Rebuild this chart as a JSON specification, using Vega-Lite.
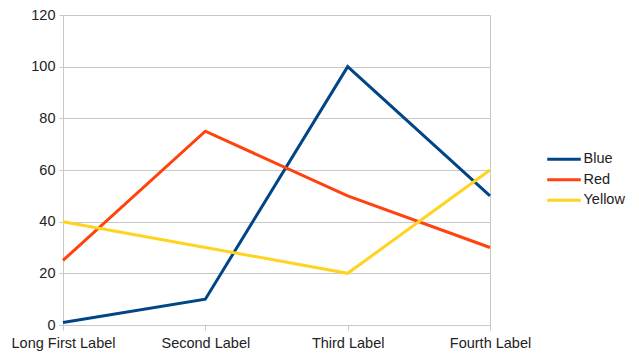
{
  "$schema": "https://vega.github.io/schema/vega-lite/v6.json",
  "width": 427,
  "height": 310,
  "autosize": {"type": "none"},
  "padding": {"left": 63, "top": 15, "right": 149, "bottom": 34},
  "background": "white",
  "data": {
    "values": [
      {"cat": "Long First Label", "series": "Blue", "value": 1},
      {"cat": "Second Label", "series": "Blue", "value": 10},
      {"cat": "Third Label", "series": "Blue", "value": 100},
      {"cat": "Fourth Label", "series": "Blue", "value": 50},
      {"cat": "Long First Label", "series": "Red", "value": 25},
      {"cat": "Second Label", "series": "Red", "value": 75},
      {"cat": "Third Label", "series": "Red", "value": 50},
      {"cat": "Fourth Label", "series": "Red", "value": 30},
      {"cat": "Long First Label", "series": "Yellow", "value": 40},
      {"cat": "Second Label", "series": "Yellow", "value": 30},
      {"cat": "Third Label", "series": "Yellow", "value": 20},
      {"cat": "Fourth Label", "series": "Yellow", "value": 60}
    ]
  },
  "mark": {"type": "line", "strokeWidth": 3, "strokeJoin": "miter"},
  "encoding": {
    "x": {
      "field": "cat",
      "type": "ordinal",
      "sort": ["Long First Label", "Second Label", "Third Label", "Fourth Label"],
      "scale": {"type": "point", "padding": 0},
      "axis": {
        "title": null,
        "labelAngle": 0,
        "labelFont": "Liberation Sans",
        "labelFontSize": 14.5,
        "labelColor": "#222",
        "labelPadding": 6,
        "tickColor": "#c8c8c8",
        "tickSize": 5,
        "domainColor": "#c8c8c8",
        "grid": false
      }
    },
    "y": {
      "field": "value",
      "type": "quantitative",
      "scale": {"domain": [0, 120], "nice": false},
      "axis": {
        "title": null,
        "values": [0, 20, 40, 60, 80, 100, 120],
        "labelFont": "Liberation Sans",
        "labelFontSize": 14.5,
        "labelColor": "#222",
        "labelPadding": 4,
        "tickColor": "#c8c8c8",
        "tickSize": 4,
        "domainColor": "#c8c8c8",
        "gridColor": "#c8c8c8"
      }
    },
    "color": {
      "field": "series",
      "type": "nominal",
      "scale": {"domain": ["Blue", "Red", "Yellow"], "range": ["#004586", "#ff420e", "#ffd320"]},
      "legend": {
        "title": null,
        "orient": "none",
        "legendX": 496,
        "legendY": 137,
        "symbolType": "M-3.8,0H2.9",
        "symbolSize": 100,
        "symbolStrokeWidth": 3,
        "labelFont": "Liberation Sans",
        "labelFontSize": 14.5,
        "labelColor": "#222",
        "rowPadding": 5.5,
        "labelOffset": 10
      }
    }
  },
  "config": {"view": {"stroke": "#c8c8c8", "strokeWidth": 1}}
}
